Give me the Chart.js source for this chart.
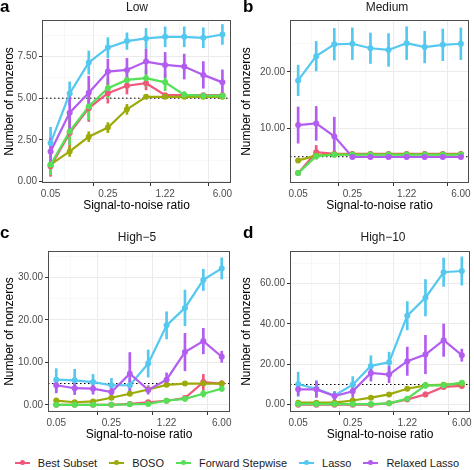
<!DOCTYPE html>
<html>
<head>
<meta charset="utf-8">
<script src="https://cdn.jsdelivr.net/npm/chart.js@4.4.1/dist/chart.umd.min.js"></script>
<style>
  body { margin: 0; background: #fff; font-family: "Liberation Sans", Arial, sans-serif; }
  #wrap { position: relative; width: 474px; height: 470px; overflow: hidden; }
  canvas { position: absolute; }
  .letter { position: absolute; font-weight: bold; font-size: 17px; color: #000; }
  .ptitle { position: absolute; font-size: 12px; color: #1a1a1a; transform: translateX(-50%); white-space: nowrap; }
  #legend { position: absolute; left: 0; top: 457px; width: 474px; display: flex; justify-content: center; font-size: 11px; color: #1a1a1a; }
  .item { display: flex; align-items: center; margin: 0 6px; }
  .mk { position: relative; width: 15px; height: 2px; margin-right: 8px; }
  .mk span { position: absolute; left: 5px; top: -2px; width: 5px; height: 5px; border-radius: 50%; }
</style>
</head>
<body>
<div id="wrap">
  <canvas id="chartA" width="237" height="213" style="left:0;top:0"></canvas>
  <canvas id="chartB" width="237" height="213" style="left:237px;top:0"></canvas>
  <canvas id="chartC" width="237" height="227" style="left:0;top:215px"></canvas>
  <canvas id="chartD" width="237" height="227" style="left:237px;top:215px"></canvas>
  <div class="letter" style="left:0;top:-3px">a</div>
  <div class="letter" style="left:243px;top:-3px">b</div>
  <div class="letter" style="left:0;top:223px">c</div>
  <div class="letter" style="left:243px;top:223px">d</div>
  <div class="ptitle" style="left:137px;top:0">Low</div>
  <div class="ptitle" style="left:387px;top:0">Medium</div>
  <div class="ptitle" style="left:137px;top:230px">High−5</div>
  <div class="ptitle" style="left:383px;top:230px">High−10</div>
  <div id="legend"></div>
</div>
<script>
// x categories (signal-to-noise ratio), only every third one gets a label
const snrLabels = ['0.05', '0.09', '0.14', '0.25', '0.42', '0.71', '1.22', '2.07', '3.52', '6.00'];
const methods = ['Best Subset', 'BOSO', 'Forward Stepwise', 'Lasso', 'Relaxed Lasso'];
const methodColors = ['#F0577B', '#9CAA0A', '#57E057', '#55C8F0', '#B35CF0'];

// mean number of nonzeros, one row per method (same order as methods)
const lowMeans = [
    [0.9, 2.9, 4.4, 5.3, 5.75, 5.9, 5.18, 5.18, 5.18, 5.18],
    [1.0, 1.8, 2.68, 3.23, 4.33, 5.08, 5.08, 5.08, 5.08, 5.08],
    [1.0, 3.0, 4.5, 5.6, 6.1, 6.2, 5.95, 5.2, 5.15, 5.15],
    [2.3, 5.28, 7.14, 8.04, 8.43, 8.59, 8.69, 8.69, 8.63, 8.83],
    [1.8, 4.13, 5.32, 6.6, 6.7, 7.2, 7.0, 6.9, 6.4, 5.95]
];
const lowErrs = [
    [0.6, 1.1, 0.8, 0.6, 0.5, 0.4, 0.1, 0.1, 0.1, 0.1],
    [0.2, 0.3, 0.3, 0.3, 0.3, 0.1, 0.05, 0.05, 0.05, 0.05],
    [0.6, 0.8, 0.8, 0.6, 0.5, 0.5, 0.5, 0.2, 0.1, 0.1],
    [0.95, 0.7, 0.7, 0.6, 0.5, 0.6, 0.6, 0.6, 0.6, 0.6],
    [0.8, 1.1, 1.0, 0.75, 0.7, 0.75, 0.75, 0.75, 0.8, 0.75]
];

const mediumMeans = [
    [2.1, 5.8, 5.5, 5.5, 5.5, 5.5, 5.5, 5.5, 5.5, 5.5],
    [4.35, 5.2, 5.4, 5.4, 5.4, 5.4, 5.4, 5.4, 5.4, 5.4],
    [2.1, 5.1, 5.35, 5.35, 5.35, 5.35, 5.35, 5.35, 5.35, 5.35],
    [18.5, 22.8, 24.9, 25.0, 24.2, 23.9, 25.1, 24.4, 24.8, 25.0],
    [10.6, 10.9, 8.6, 4.95, 4.95, 4.95, 4.95, 4.95, 4.95, 4.95]
];
const mediumErrs = [
    [0.3, 1.2, 0.5, 0.2, 0.2, 0.2, 0.2, 0.2, 0.2, 0.2],
    [0.3, 0.4, 0.2, 0.2, 0.2, 0.2, 0.2, 0.2, 0.2, 0.2],
    [0.4, 0.5, 0.3, 0.2, 0.2, 0.2, 0.2, 0.2, 0.2, 0.2],
    [2.7, 2.6, 2.8, 2.8, 2.7, 2.9, 2.9, 2.8, 2.8, 2.8],
    [3.2, 3.0, 3.4, 0.2, 0.2, 0.2, 0.2, 0.2, 0.2, 0.2]
];

const high5Means = [
    [0, 0, 0, 0, 0.2, 0.6, 0.95, 1.6, 5.35, 5.0],
    [1.0, 0.6, 0.8, 1.65, 2.6, 3.6, 4.7, 5.0, 5.0, 5.0],
    [0, 0, 0, 0, 0.1, 0.2, 0.95, 1.4, 2.6, 3.8],
    [5.9, 5.75, 5.35, 4.6, 4.6, 9.7, 18.7, 22.8, 29.4, 32.1],
    [4.6, 3.9, 3.8, 3.0, 7.3, 3.5, 5.9, 12.4, 15.0, 11.3]
];
const high5Errs = [
    [0.1, 0.1, 0.1, 0.1, 0.2, 0.3, 0.4, 0.6, 1.8, 0.6],
    [0.4, 0.3, 0.3, 0.3, 0.3, 0.3, 0.3, 0.2, 0.2, 0.2],
    [0.1, 0.1, 0.1, 0.1, 0.1, 0.2, 0.4, 0.6, 0.8, 0.6],
    [2.6, 2.6, 1.8, 1.6, 1.6, 3.2, 3.2, 4.2, 2.5, 2.5],
    [1.8, 1.5, 1.3, 1.2, 5.0, 1.0, 1.6, 4.4, 3.0, 1.3]
];

const high10Means = [
    [0, 0, 0, 0, 0, 0.7, 2.6, 5.1, 8.8, 9.3],
    [1.0, 1.0, 1.0, 2.1, 3.5, 5.1, 7.9, 9.6, 9.9, 10.4],
    [0.3, 0.3, 0.3, 0.3, 0.3, 0.7, 3.0, 9.6, 9.6, 10.9],
    [10.1, 7.9, 4.6, 9.9, 19.2, 21.0, 44.0, 52.9, 65.5, 66.1],
    [7.6, 7.6, 4.3, 6.6, 15.7, 14.9, 21.5, 24.8, 31.9, 24.5]
];
const high10Errs = [
    [0.3, 0.3, 0.3, 0.3, 0.3, 0.4, 0.8, 1.2, 1.0, 1.0],
    [0.5, 0.5, 0.5, 0.5, 0.5, 0.5, 0.6, 0.6, 0.6, 0.6],
    [0.3, 0.3, 0.3, 0.3, 0.3, 0.4, 0.8, 1.5, 1.2, 1.0],
    [6, 4, 2, 4, 5, 5, 7, 9, 7, 7],
    [3, 4, 2, 3, 4, 4, 7, 9.5, 8, 3]
];

// true number of nonzeros (dotted reference line)
const trueNonzeros = [5, 5, 5, 10];

const X_MIN = -0.45, X_MAX = 9.45;

// full box round the panel, like theme_bw
const panelBorder = {
    id: 'panelBorder',
    afterDraw(chart) {
        const a = chart.chartArea;
        const ctx = chart.ctx;
        ctx.save();
        ctx.strokeStyle = '#4d4d4d';
        ctx.lineWidth = 1;
        ctx.strokeRect(a.left + 0.5, a.top + 0.5, a.right - a.left - 1, a.bottom - a.top - 1);
        ctx.restore();
    }
};

function isMajor(v, step) {
    const r = v / step;
    return Math.abs(r - Math.round(r)) < 1e-6;
}

// scriptable grid helper, the context has no tick for some calls
function byTick(step, major, minor) {
    return c => (c.tick && isMajor(c.tick.value, step)) ? major : minor;
}

function makePanel(canvasId, means, errs, hline, opt) {
    const datasets = [];
    // dotted line for the true sparsity
    datasets.push({
        type: 'line',
        data: [{ x: X_MIN, y: hline }, { x: X_MAX, y: hline }],
        borderColor: '#000',
        borderWidth: 1,
        borderDash: [1.5, 2.5],
        pointRadius: 0
    });
    // error bars as thin floating bars
    means.forEach((row, m) => {
        datasets.push({
            type: 'bar',
            data: row.map((v, i) => ({ x: i, y: [v - errs[m][i], v + errs[m][i]] })),
            backgroundColor: methodColors[m],
            borderWidth: 0,
            barThickness: 2,
            grouped: false
        });
    });
    // lines
    means.forEach((row, m) => {
        datasets.push({
            type: 'line',
            data: row.map((v, i) => ({ x: i, y: v })),
            borderColor: methodColors[m],
            borderWidth: 2.2,
            pointRadius: 0,
            tension: 0
        });
    });
    // points
    means.forEach((row, m) => {
        datasets.push({
            type: 'line',
            data: row.map((v, i) => ({ x: i, y: v })),
            showLine: false,
            pointRadius: 3,
            pointBackgroundColor: methodColors[m],
            pointBorderWidth: 0
        });
    });
    // later datasets go on top
    datasets.forEach((d, i) => { d.order = -i; });

    const tickFont = { family: '"Liberation Sans", Arial, sans-serif', size: 10 };
    const titleFont = { family: '"Liberation Sans", Arial, sans-serif', size: 12 };

    new Chart(document.getElementById(canvasId), {
        type: 'line',
        data: { datasets },
        options: {
            responsive: false,
            animation: false,
            events: [],
            layout: { padding: { top: opt.padTop, right: opt.padRight, left: 0, bottom: 0 } },
            plugins: { legend: { display: false }, tooltip: { enabled: false } },
            scales: {
                x: {
                    type: 'linear',
                    min: X_MIN,
                    max: X_MAX,
                    offset: false,
                    afterFit: s => { s.height = opt.xHeight; },
                    border: { display: false },
                    grid: {
                        color: byTick(3, '#ebebeb', '#f3f3f3'),
                        lineWidth: byTick(3, 1, 0.6),
                        tickColor: byTick(3, '#333', 'rgba(0,0,0,0)'),
                        tickLength: 3
                    },
                    ticks: {
                        stepSize: 1.5,
                        includeBounds: false,
                        autoSkip: false,
                        maxRotation: 0,
                        padding: 2,
                        color: '#4d4d4d',
                        font: tickFont,
                        callback: v => isMajor(v, 3) ? snrLabels[Math.round(v)] : ''
                    },
                    title: { display: true, text: 'Signal-to-noise ratio', color: '#000', font: titleFont, padding: 0 }
                },
                y: {
                    min: opt.yMin,
                    max: opt.yMax,
                    afterFit: s => { s.width = opt.yWidth; },
                    border: { display: false },
                    grid: {
                        color: byTick(opt.yMajor, '#ebebeb', '#f3f3f3'),
                        lineWidth: byTick(opt.yMajor, 1, 0.6),
                        tickColor: byTick(opt.yMajor, '#333', 'rgba(0,0,0,0)'),
                        tickLength: 3
                    },
                    ticks: {
                        stepSize: opt.yMajor / 2,
                        includeBounds: false,
                        autoSkip: false,
                        padding: 2,
                        color: '#4d4d4d',
                        font: tickFont,
                        callback: v => isMajor(v, opt.yMajor) ? v.toFixed(2) : ''
                    },
                    title: { display: true, text: 'Number of nonzeros', color: '#000', font: titleFont, padding: { top: 2, bottom: 0 } }
                }
            }
        },
        plugins: [panelBorder]
    });
}

makePanel('chartA', lowMeans, lowErrs, trueNonzeros[0],
    { yMin: -0.1, yMax: 9.7, yMajor: 2.5, yWidth: 42, padTop: 20, padRight: 6, xHeight: 30 });
makePanel('chartB', mediumMeans, mediumErrs, trueNonzeros[1],
    { yMin: 0.35, yMax: 29.2, yMajor: 10, yWidth: 53, padTop: 20, padRight: 5, xHeight: 30 });
makePanel('chartC', high5Means, high5Errs, trueNonzeros[2],
    { yMin: -1.7, yMax: 36.2, yMajor: 10, yWidth: 48, padTop: 36, padRight: 7, xHeight: 30 });
makePanel('chartD', high10Means, high10Errs, trueNonzeros[3],
    { yMin: -3.6, yMax: 76, yMajor: 20, yWidth: 53, padTop: 36, padRight: 4, xHeight: 30 });

// legend
const legendEl = document.getElementById('legend');
methods.forEach((name, m) => {
    legendEl.innerHTML += `
        <div class="item">
            <div class="mk" style="background:${methodColors[m]}"><span style="background:${methodColors[m]}"></span></div>
            <div>${name}</div>
        </div>`;
});
</script>
</body>
</html>
